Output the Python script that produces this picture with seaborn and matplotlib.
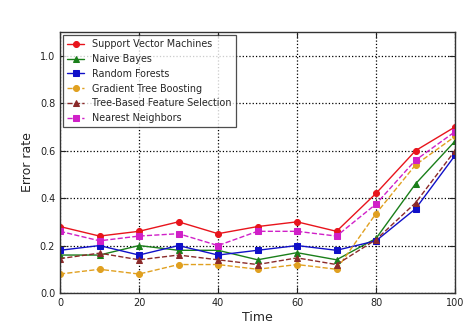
import matplotlib
matplotlib.use("Agg")
import matplotlib.pyplot as plt
import seaborn as sns
import pandas as pd

time = [0, 10, 20, 30, 40, 50, 60, 70, 80, 90, 100]
svm = [0.28, 0.24, 0.26, 0.30, 0.25, 0.28, 0.30, 0.26, 0.42, 0.60, 0.70]
naive_bayes = [0.16, 0.16, 0.20, 0.18, 0.18, 0.14, 0.17, 0.14, 0.23, 0.46, 0.64]
random_forests = [0.18, 0.20, 0.16, 0.20, 0.16, 0.18, 0.20, 0.18, 0.22, 0.355, 0.58]
gradient_boost = [0.08, 0.10, 0.08, 0.12, 0.12, 0.10, 0.12, 0.10, 0.335, 0.54, 0.66]
tree_feature = [0.145, 0.168, 0.14, 0.16, 0.14, 0.12, 0.148, 0.12, 0.225, 0.38, 0.60]
nearest = [0.26, 0.22, 0.24, 0.25, 0.20, 0.26, 0.26, 0.24, 0.375, 0.56, 0.68]

series_names = ["Support Vector Machines", "Naive Bayes", "Random Forests",
                "Gradient Tree Boosting", "Tree-Based Feature Selection", "Nearest Neighbors"]
series_values = [svm, naive_bayes, random_forests, gradient_boost, tree_feature, nearest]

colors = ["#e8141c", "#1a7f1a", "#1010c8", "#e0a020", "#8b2a2a", "#d020c8"]
markers = ["o", "^", "s", "o", "^", "s"]
styles = ["-", "-", "-", "--", "--", "--"]

sns.set_style("white")
plt.rcParams['font.family'] = ['DejaVu Sans']

fig = plt.figure(figsize=(4.74, 3.26), dpi=100)
ax = fig.add_axes([0.1266, 0.1012, 0.8334, 0.8006])

for name, vals, c, m, ls in zip(series_names, series_values, colors, markers, styles):
    df = pd.DataFrame({"Time": time, "Error rate": vals})
    sns.lineplot(data=df, x="Time", y="Error rate", ax=ax, color=c, marker=m,
                 linestyle=ls, linewidth=1.0, markersize=4.3, markeredgecolor=c,
                 label=name)

ax.set_xlim(0, 100)
ax.set_ylim(0, 1.1)
ax.set_xticks([0, 20, 40, 60, 80, 100])
ax.set_yticks([0.0, 0.2, 0.4, 0.6, 0.8, 1.0])
ax.set_yticklabels(["0.0", "0.2", "0.4", "0.6", "0.8", "1.0"])
ax.grid(True, color="black", linestyle=":", linewidth=0.9)
ax.tick_params(direction="in", length=4, labelsize=7, top=True, right=True,
               bottom=True, left=True, colors="#222222")
for s in ax.spines.values():
    s.set_color("#333333")
    s.set_linewidth(1.0)
ax.set_xlabel("Time", fontsize=9, labelpad=2)
ax.set_ylabel("Error rate", fontsize=9, labelpad=4)

leg = ax.legend(loc="upper left", fontsize=6.9, frameon=True, fancybox=False,
                borderaxespad=0.3, handlelength=1.8, labelspacing=0.5,
                borderpad=0.45, handletextpad=0.8)
leg.get_frame().set_edgecolor("#222222")
leg.get_frame().set_linewidth(0.9)

fig.savefig("out.png", dpi=100)
